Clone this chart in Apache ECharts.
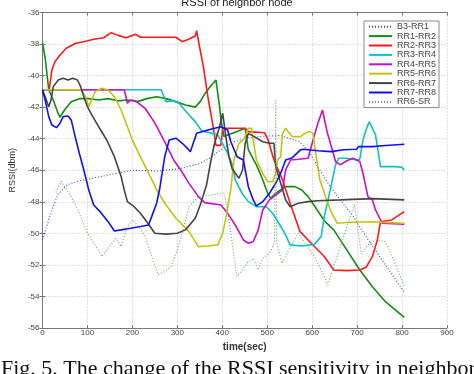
<!DOCTYPE html>
<html>
<head>
<meta charset="utf-8">
<script src="https://cdn.jsdelivr.net/npm/echarts@6/dist/echarts.min.js"></script>
<style>
html,body{margin:0;padding:0;background:#fff;}
#c{width:474px;height:374px;}
</style>
</head>
<body>
<div id="c"></div>
<script>
// ---- data: [time (sec), RSSI (dbm)] ----
const xTicks = [0,100,200,300,400,500,600,700,800,900];
const yTicks = [-56,-54,-52,-50,-48,-46,-44,-42,-40,-38,-36];
const seriesNames = ['B3-RR1','RR1-RR2','RR2-RR3','RR3-RR4','RR4-RR5','RR5-RR6','RR6-RR7','RR7-RR8','RR6-SR'];

const b3_rr1 = [[0,-50.42],[10,-49.5],[24,-48.3],[35,-47.5],[57,-46.9],[85,-46.65],[121,-46.45],[164,-46.2],[200,-46.0],[257,-46.05],[304,-45.9],[347,-45.6],[368,-45.3],[397,-44.7],[426,-44.2],[455,-43.95],[490,-43.85],[530,-43.8],[572,-44.2],[595,-44.9],[613,-45.8],[635,-46.8],[655,-47.6],[691,-48.9],[706,-49.6],[734,-50.8],[763,-52.0],[792,-53.2],[805,-53.7]];

const rr1_rr2 = [[0,-37.9],[6,-38.9],[14,-40.9],[24,-41.55],[35,-42.4],[39,-42.64],[49,-42.18],[64,-41.65],[82,-41.46],[103,-41.46],[125,-41.55],[146,-41.46],[168,-41.6],[189,-41.55],[211,-41.65],[232,-41.46],[254,-41.34],[275,-41.46],[297,-41.65],[318,-41.86],[340,-42.0],[351,-41.65],[361,-41.16],[372,-40.74],[386,-40.28],[394,-41.97],[397,-42.81],[404,-43.87],[412,-43.76],[433,-43.55],[451,-43.34],[458,-44.7],[469,-45.3],[476,-45.66],[490,-46.6],[501,-47.46],[508,-47.78],[519,-47.46],[541,-47.04],[562,-47.04],[577,-47.25],[591,-47.67],[605,-48.25],[627,-49.2],[648,-49.78],[677,-51.05],[706,-52.32],[734,-53.38],[763,-54.33],[805,-55.32]];

const rr2_rr3 = [[0,-40.9],[15,-40.9],[21,-39.64],[28,-39.1],[39,-38.7],[53,-38.27],[74,-37.95],[92,-37.85],[114,-37.7],[136,-37.6],[153,-37.28],[168,-37.45],[186,-37.6],[196,-37.49],[207,-37.38],[218,-37.57],[239,-37.57],[297,-37.57],[311,-37.85],[325,-37.7],[340,-37.49],[343,-37.15],[348,-37.95],[358,-39.43],[368,-41.34],[379,-43.13],[386,-44.42],[397,-44.42],[401,-43.34],[451,-43.34],[458,-43.55],[494,-43.62],[502,-44.08],[515,-45.35],[534,-46.61],[551,-48.09],[573,-49.89],[598,-50.63],[627,-51.47],[648,-52.32],[677,-52.36],[706,-52.32],[720,-52.15],[734,-51.48],[745,-50.42],[752,-49.26],[777,-49.15],[799,-48.73],[805,-48.62]];

const rr3_rr4 = [[0,-40.9],[264,-40.9],[275,-41.65],[290,-41.6],[304,-41.75],[326,-42.5],[340,-42.92],[354,-43.5],[368,-43.6],[390,-43.75],[412,-44.92],[422,-45.6],[429,-46.61],[444,-47.46],[458,-47.99],[476,-48.31],[498,-48.31],[512,-48.73],[526,-49.36],[541,-50.1],[551,-50.73],[577,-50.8],[605,-50.7],[620,-50.2],[627,-48.94],[637,-47.67],[652,-45.66],[659,-45.24],[677,-45.24],[698,-45.35],[706,-45.3],[713,-44.08],[720,-43.45],[727,-42.92],[734,-43.34],[741,-43.76],[752,-45.77],[756,-45.81],[784,-45.77],[799,-45.8],[805,-45.98]];

const rr4_rr5 = [[0,-40.9],[182,-40.9],[189,-41.75],[196,-41.55],[207,-41.6],[229,-42.1],[250,-43.0],[272,-44.2],[293,-45.4],[308,-46.0],[326,-46.83],[347,-47.67],[361,-48.05],[397,-48.2],[412,-48.73],[429,-49.47],[447,-50.42],[458,-50.63],[469,-50.52],[480,-49.78],[490,-48.52],[505,-47.88],[519,-47.57],[534,-47.25],[541,-45.98],[552,-45.35],[570,-45.3],[591,-45.24],[602,-44.08],[613,-43.0],[623,-42.18],[634,-43.66],[645,-44.71],[652,-45.45],[663,-45.66],[677,-45.4],[691,-45.24],[706,-45.45],[713,-46.19],[724,-47.67],[734,-47.88],[741,-48.52],[756,-49.36],[805,-49.42]];

const rr5_rr6 = [[0,-40.9],[85,-40.9],[96,-41.34],[103,-41.97],[110,-41.5],[117,-41.02],[132,-40.8],[146,-40.91],[160,-41.34],[175,-42.18],[189,-43.24],[200,-44.08],[214,-44.92],[229,-45.77],[247,-46.82],[254,-47.25],[275,-48.2],[297,-49.04],[326,-49.89],[347,-50.84],[368,-50.8],[390,-50.73],[401,-49.99],[408,-49.04],[419,-47.2],[426,-45.35],[437,-44.29],[447,-44.08],[458,-43.34],[465,-43.34],[469,-44.08],[476,-45.35],[490,-46.2],[501,-46.72],[512,-46.72],[519,-46.19],[523,-45.35],[530,-45.14],[534,-43.66],[541,-43.34],[548,-43.6],[556,-43.87],[574,-43.87],[584,-43.66],[595,-43.55],[602,-43.66],[609,-45.14],[617,-46.61],[631,-47.78],[642,-48.62],[656,-49.36],[685,-49.3],[735,-49.26],[771,-49.32],[805,-49.36]];

const rr6_rr7 = [[0,-40.9],[6,-41.34],[14,-41.97],[19,-41.55],[24,-40.7],[35,-40.28],[46,-40.17],[57,-40.28],[67,-40.17],[78,-40.28],[85,-40.7],[92,-41.34],[100,-41.97],[110,-42.5],[125,-43.24],[143,-44.08],[160,-45.14],[175,-46.4],[182,-47.25],[189,-47.99],[204,-48.31],[218,-48.73],[232,-49.26],[250,-49.99],[275,-50.05],[300,-49.99],[318,-49.78],[340,-49.04],[351,-48.2],[358,-47.57],[365,-46.93],[375,-45.35],[383,-44.29],[394,-43.24],[401,-42.39],[404,-42.5],[408,-43.87],[415,-45.14],[422,-45.9],[429,-46.19],[437,-46.51],[445,-46.0],[451,-44.3],[458,-43.66],[473,-43.9],[490,-44.19],[505,-44.29],[515,-44.29],[519,-45.77],[530,-46.82],[541,-47.88],[551,-48.31],[569,-48.09],[591,-47.99],[612,-47.93],[663,-47.88],[735,-47.8],[805,-47.88]];

const rr7_rr8 = [[0,-40.9],[6,-41.55],[14,-42.6],[21,-43.13],[31,-43.3],[39,-43.02],[46,-42.6],[57,-42.56],[64,-42.81],[71,-43.66],[82,-44.92],[92,-45.98],[103,-47.25],[114,-48.2],[128,-48.62],[146,-49.26],[160,-49.85],[175,-49.78],[196,-49.68],[218,-49.57],[236,-49.47],[243,-48.94],[254,-48.09],[261,-47.14],[272,-45.14],[282,-44.08],[297,-43.97],[311,-44.29],[322,-44.6],[329,-44.82],[343,-43.66],[347,-43.55],[368,-43.45],[383,-43.34],[397,-43.24],[412,-43.45],[419,-44.19],[433,-45.14],[447,-45.35],[458,-47.04],[469,-47.88],[476,-48.26],[490,-47.99],[505,-47.46],[519,-46.82],[530,-46.19],[541,-45.35],[556,-45.2],[574,-44.71],[581,-44.67],[613,-44.76],[642,-44.82],[670,-44.7],[699,-44.67],[703,-44.5],[735,-44.5],[756,-44.45],[805,-44.35]];

const rr6_sr = [[30,-47.4],[42,-46.7],[46,-46.9],[64,-47.67],[82,-48.73],[100,-49.99],[117,-50.73],[132,-51.47],[146,-50.94],[164,-50.31],[175,-50.84],[189,-49.57],[200,-49.15],[214,-49.57],[229,-50.2],[243,-51.47],[257,-52.63],[272,-52.43],[286,-52.11],[300,-51.05],[315,-49.57],[326,-48.3],[347,-47.67],[376,-47.57],[404,-47.45],[412,-48.52],[422,-50.63],[433,-52.74],[444,-52.32],[455,-51.89],[469,-51.58],[480,-52.32],[490,-51.58],[505,-51.26],[516,-50.6],[519,-41.55],[521,-50.6],[533,-51.89],[548,-51.05],[569,-49.99],[584,-50.63],[605,-51.47],[627,-52.74],[635,-53.27],[656,-51.4],[678,-49.5],[694,-48.15],[701,-49.5],[709,-51.3],[727,-50.63],[741,-50.42],[763,-50.52],[781,-51.68],[799,-52.95],[805,-53.3]];

const seriesData = [b3_rr1, rr1_rr2, rr2_rr3, rr3_rr4, rr4_rr5, rr5_rr6, rr6_rr7, rr7_rr8, rr6_sr];
const colors = ['#3a3aff','#128c12','#ff1a1a','#10c0c0','#c810c8','#c4c410','#444444','#1010ee','#5ab05a'];
const dotted = [true,false,false,false,false,false,false,false,true];

const chart = echarts.init(document.getElementById('c'), null, {renderer:'canvas'});
const FONT = 'Liberation Sans, Arial, sans-serif';
const axisCommon = {
  type:'value',
  axisLine:{show:true, lineStyle:{color:'#777', width:1}},
  axisTick:{show:true, inside:true, length:3, lineStyle:{color:'#777'}},
};
chart.setOption({
  animation:false,
  backgroundColor:'#fff',
  grid:{left:29, right:27, top:12.5, bottom:46, containLabel:false, show:false},
  legend:{
    orient:'vertical', left:364, top:21,
    padding:[1,3,1,4], itemGap:0, itemWidth:23, itemHeight:9.4, itemTextGap:3,
    backgroundColor:'#fff', borderColor:'#888', borderWidth:1,
    itemStyle:{opacity:0},
    textStyle:{fontFamily:FONT, fontSize:9, color:'#444', lineHeight:9.4},
    data: seriesNames
  },
  xAxis:[
    Object.assign({}, axisCommon, {
      position:'bottom', min:0, max:900, interval:100,
      name:'time(sec)', nameLocation:'middle', nameGap:8,
      nameTextStyle:{fontFamily:FONT, fontSize:10, fontWeight:'bold', color:'#333'},
      axisLabel:{fontFamily:FONT, fontSize:8, color:'#444', margin:1,
        formatter:(v)=> xTicks.includes(v) ? String(v) : ''},
      splitLine:{show:true, lineStyle:{color:'#c4c4c4', type:[1,2], width:1}}
    }),
    Object.assign({}, axisCommon, {
      position:'top', min:0, max:900, interval:100,
      axisLabel:{show:false}, splitLine:{show:false}
    })
  ],
  yAxis:[
    Object.assign({}, axisCommon, {
      position:'left', min:-56, max:-36, interval:2,
      name:'RSSI(dbm)', nameLocation:'middle', nameGap:19,
      nameTextStyle:{fontFamily:FONT, fontSize:9, color:'#333'},
      axisLabel:{fontFamily:FONT, fontSize:8, color:'#444', margin:3,
        formatter:(v)=> yTicks.includes(v) ? String(v) : ''},
      splitLine:{show:true, lineStyle:{color:'#c4c4c4', type:[1,2], width:1}}
    }),
    Object.assign({}, axisCommon, {
      position:'right', min:-56, max:-36, interval:2,
      axisLabel:{show:false}, splitLine:{show:false}
    })
  ],
  series: seriesNames.map((n,i)=>({
    name:n, type:'line', data:seriesData[i], symbol:'none', showSymbol:false,
    color:colors[i],
    lineStyle:{color:colors[i], width: dotted[i] ? 1.1 : 1.6, type: dotted[i] ? [1,2] : 'solid'},
    z: 2+i, silent:true
  })),
  graphic:[
    {type:'text', x:237, y:2.6, silent:true,
     style:{text:'RSSI of neighbor node', fontFamily:FONT, fontSize:11, fill:'#222', align:'center', verticalAlign:'middle'}},
    {type:'text', x:1, y:368.8, silent:true,
     style:{text:'Fig. 5. The change of the RSSI sensitivity in neighbor', fontFamily:'Liberation Serif, Times New Roman, serif', fontSize:22, fill:'#111', align:'left', verticalAlign:'middle'}}
  ]
});
</script>
</body>
</html>
